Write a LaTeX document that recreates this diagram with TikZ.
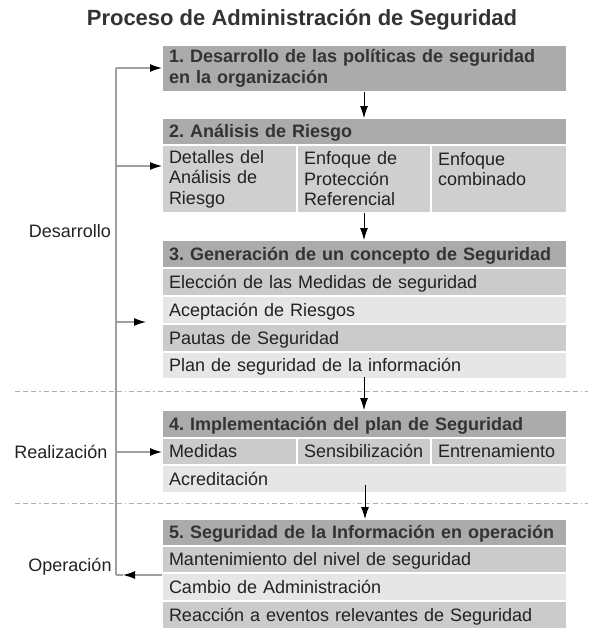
\documentclass[tikz,border=0pt]{standalone}
\usepackage{fontspec}
\setmainfont{Liberation Sans}
\usetikzlibrary{arrows.meta,calc}
\definecolor{hdr}{HTML}{ABABAB}
\definecolor{midg}{HTML}{CBCBCB}
\definecolor{cellg}{HTML}{CFCFCF}
\definecolor{lite}{HTML}{E6E6E6}
\definecolor{txt}{HTML}{222222}
\definecolor{hdrtxt}{HTML}{333333}
\definecolor{conn}{HTML}{A0A0A0}
\definecolor{sepc}{HTML}{B0B0B0}
\frenchspacing
\begin{document}
\begin{tikzpicture}[x=1pt,y=-1pt,
  font=\fontsize{18}{20.5}\selectfont,
  cellbox/.style={rectangle, draw=white, line width=1.5pt, anchor=north west,
    inner xsep=7pt, inner ysep=0pt, outer sep=0pt, align=left, text=txt},
  one/.style={text height=14.5pt, text depth=2pt},
  full/.style={minimum width=405pt, text width=391pt},
  hd/.style={cellbox, full, fill=hdr, text=hdrtxt, font=\fontsize{18}{21}\selectfont\bfseries},
  hdone/.style={hd, one},
  rowm/.style={cellbox, full, one, fill=midg},
  rowl/.style={cellbox, full, one, fill=lite},
  colA/.style={minimum width=135pt, text width=121pt},
  colB/.style={minimum width=134pt, text width=120pt},
  colC/.style={minimum width=136pt, text width=122pt},
  arr/.style={draw=black, line width=0.8pt, -{Latex[length=12pt,width=8pt]}},
  connl/.style={draw=conn, line width=1.2pt},
  connarr/.style={draw=conn, line width=1.2pt, -{Latex[length=12pt,width=8pt,color=black]}},
  sepline/.style={draw=sepc, line width=1pt, dash pattern=on 5pt off 3pt on 5pt off 3pt on 5pt off 3pt on 1.5pt off 3pt},
  lbl/.style={text=txt, inner sep=0pt}
]
\useasboundingbox (0,0) rectangle (603,640);

% title
\node[font=\fontsize{22}{26}\selectfont\bfseries, text=hdrtxt] (title) at (302,20) {Proceso de Administración de Seguridad};

% box 1
\node[hd, minimum height=47pt] (b1) at (162,45) {1. Desarrollo de las políticas de seguridad\\en la organización};

% box 2
\node[hdone, minimum height=27pt] (b2) at (162,118) {2. Análisis de Riesgo};
\node[cellbox, colA, fill=cellg, minimum height=68pt] (b2a) at (162,145) {Detalles del\\Análisis de\\Riesgo};
\node[cellbox, colB, fill=cellg, minimum height=68pt] (b2b) at (297,145) {Enfoque de\\Protección\\Referencial};
\node[cellbox, colC, fill=cellg, minimum height=68pt] (b2c) at (431,145) {Enfoque\\combinado\\\mbox{}};

% box 3
\node[hdone, minimum height=28pt] (b3) at (162,240) {3. Generación de un concepto de Seguridad};
\node[rowm, minimum height=28pt] (b3r1) at (162,268) {Elección de las Medidas de seguridad};
\node[rowl, minimum height=28pt] (b3r2) at (162,296) {Aceptación de Riesgos};
\node[rowm, minimum height=28pt] (b3r3) at (162,324) {Pautas de Seguridad};
\node[rowl, minimum height=27pt] (b3r4) at (162,352) {Plan de seguridad de la información};

% box 4
\node[hdone, minimum height=28pt] (b4) at (162,410) {4. Implementación del plan de Seguridad};
\node[cellbox, one, colA, fill=midg, minimum height=27pt] (b4a) at (162,438) {Medidas};
\node[cellbox, one, colB, fill=midg, minimum height=27pt] (b4b) at (297,438) {Sensibilización};
\node[cellbox, one, colC, fill=midg, minimum height=27pt] (b4c) at (431,438) {Entrenamiento};
\node[rowl, minimum height=28pt] (b4r2) at (162,465) {Acreditación};

% box 5
\node[hdone, minimum height=27pt] (b5) at (162,519) {5. Seguridad de la Información en operación};
\node[rowm, minimum height=27pt] (b5r1) at (162,546) {Mantenimiento del nivel de seguridad};
\node[rowl, minimum height=28pt] (b5r2) at (162,573) {Cambio de Administración};
\node[rowm, minimum height=28pt] (b5r3) at (162,601) {Reacción a eventos relevantes de Seguridad};

% separators
\coordinate (d1a) at (15,391); \coordinate (d1b) at (588,391);
\coordinate (d2a) at (15,503); \coordinate (d2b) at (588,503);
\draw[sepline] (d1a) -- (d1b);
\draw[sepline] (d2a) -- (d2b);

% vertical flow arrows
\coordinate (ax) at (364,0);
\coordinate (ax5) at (365,0);
\draw[arr] (b1.south -| ax) -- (b2.north -| ax);
\draw[arr] (b2b.south -| ax) -- (b3.north -| ax);
\draw[arr] ([yshift=2pt]b3r4.south -| ax) -- (b4.north -| ax);
\draw[arr] ([yshift=8pt]b4r2.south -| ax5) -- (b5.north -| ax5);

% left labels
\node[lbl] (ld) at (70,231) {Desarrollo};
\node[lbl] (lr) at (61,452) {Realización};
\node[lbl] (lo) at (70,567) {Operación};

% left connectors
\coordinate (vt) at (116,68);
\coordinate (v2) at (116,166);
\coordinate (v3) at (116,322);
\coordinate (e3) at (146,322);
\coordinate (v4) at (116,452);
\coordinate (vb) at (116,575);
\coordinate (e5) at (123,575);
\draw[connl] (vt) -- (vb);
\draw[connarr] (vt) -- (vt -| b1.west);
\draw[connarr] (v2) -- (v2 -| b2a.west);
\draw[connarr] (v3) -- (e3);
\draw[connarr] (v4) -- (v4 -| b4a.west);
\draw[connarr] (vb -| b5r1.west) -- (e5);
\draw[connl] (e5) -- (vb);
\end{tikzpicture}
\end{document}
